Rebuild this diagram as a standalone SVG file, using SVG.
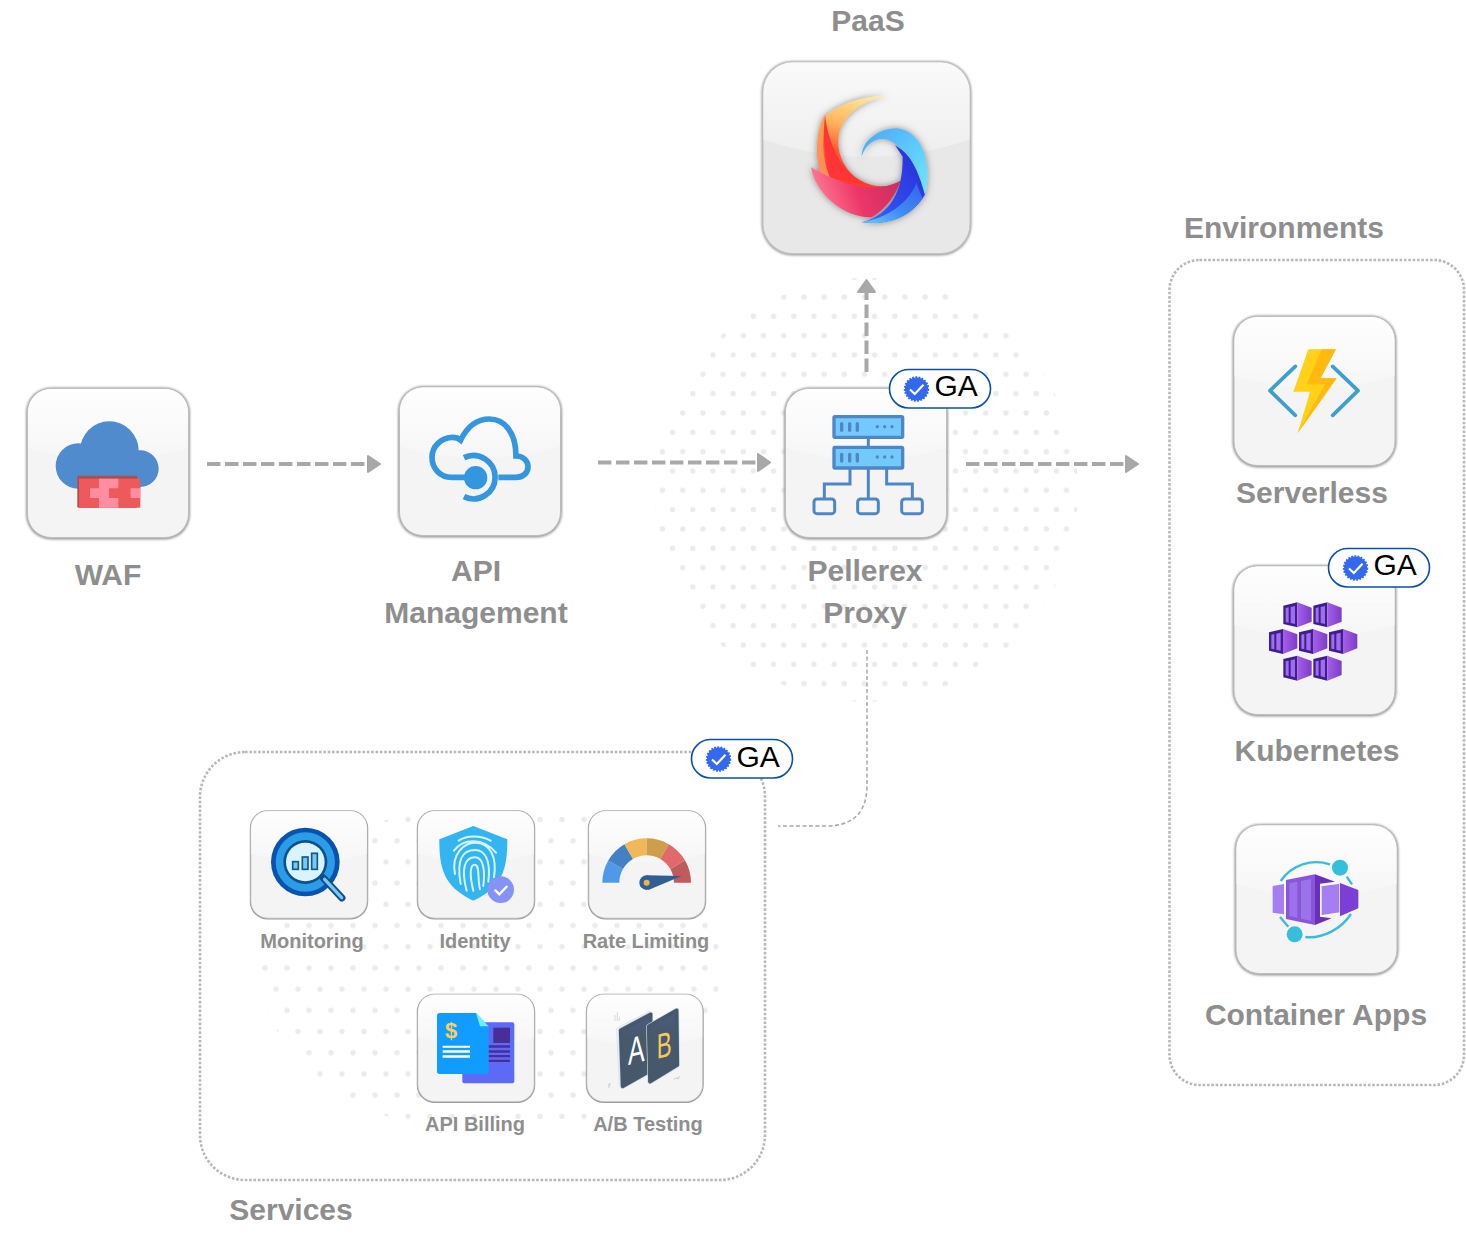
<svg xmlns="http://www.w3.org/2000/svg" xmlns:xlink="http://www.w3.org/1999/xlink" width="1466" height="1241" viewBox="0 0 1466 1241">
<style>
text{font-family:"Liberation Sans",Arial,sans-serif}
.lbl{font-size:30px;font-weight:700;fill:#8e8e8e;text-anchor:middle}
.sm{font-size:20px;font-weight:700;fill:#8e8e8e;text-anchor:middle}
.ga{font-size:30px;fill:#000}
.frame{fill:none;stroke:#b8b8b8;stroke-width:2.6;stroke-dasharray:2.6 1.75}
.flow{fill:none;stroke:#a8a8a8;stroke-width:4;stroke-dasharray:13.4 4.6}
.thin{fill:none;stroke:#a8a8a8;stroke-width:1.5;stroke-dasharray:4 2.5}
.head{fill:#a8a8a8;stroke:#a8a8a8;stroke-width:2;stroke-linejoin:round}
.pill{fill:#fff;stroke:#0b50a8;stroke-width:1.6}
</style>
<defs>
<filter id="soft" x="-10%" y="-10%" width="120%" height="120%"><feGaussianBlur stdDeviation="1"/></filter>
<filter id="logoShadow" x="-25%" y="-25%" width="150%" height="150%"><feDropShadow dx="0" dy="0" stdDeviation="11" flood-color="#555" flood-opacity=".65"/></filter>
<linearGradient id="gl" x1="0" y1="0" x2="0" y2="1"><stop offset="0" stop-color="#fefefe"/><stop offset="1" stop-color="#f6f6f6"/></linearGradient>
<linearGradient id="gd" x1="0" y1="0" x2="0" y2="1"><stop offset="0" stop-color="#fafafa"/><stop offset="1" stop-color="#eeeeee"/></linearGradient>
<linearGradient id="gOr" x1="0.7" y1="0" x2="0.5" y2="1"><stop offset="0" stop-color="#ffec9e"/><stop offset="0.35" stop-color="#ffb45a"/><stop offset="0.62" stop-color="#ff5a30"/><stop offset="1" stop-color="#ff2f34"/></linearGradient>
<linearGradient id="gSl" x1="0" y1="0" x2="0" y2="1"><stop offset="0" stop-color="#ffa04a"/><stop offset="1" stop-color="#ff8a5a"/></linearGradient>
<linearGradient id="gPk" x1="0" y1="0.5" x2="1" y2="0.3"><stop offset="0" stop-color="#ff8096"/><stop offset="0.5" stop-color="#ee3568"/><stop offset="1" stop-color="#c72f60"/></linearGradient>
<linearGradient id="gBl" x1="0" y1="1" x2="1" y2="0.2"><stop offset="0" stop-color="#3b70f8"/><stop offset="0.4" stop-color="#2f4cf0"/><stop offset="1" stop-color="#2b2fd8"/></linearGradient>
<linearGradient id="gRim" x1="0" y1="1" x2="1" y2="0"><stop offset="0" stop-color="#66ccff"/><stop offset="0.45" stop-color="#3f8cf6"/><stop offset="1" stop-color="#3560ec"/></linearGradient>
<linearGradient id="gSky" x1="0" y1="0" x2="1" y2="1"><stop offset="0" stop-color="#4aa6f8"/><stop offset="1" stop-color="#70e8ff"/></linearGradient>
<linearGradient id="gCube" x1="0" y1="0" x2="1" y2="0"><stop offset="0" stop-color="#a65fea"/><stop offset="1" stop-color="#7b3dc9"/></linearGradient>
<linearGradient id="gCard" x1="0" y1="0" x2="0" y2="1"><stop offset="0" stop-color="#4f5a85"/><stop offset="0.35" stop-color="#47596a"/><stop offset="1" stop-color="#46596b"/></linearGradient>
<pattern id="dotsA" patternUnits="userSpaceOnUse" x="778.7" y="292" width="20.2" height="38.67"><circle cx="5" cy="5" r="2.7" fill="#ebebeb"/><circle cx="15.1" cy="24.33" r="2.7" fill="#ebebeb"/></pattern>
<pattern id="dotsB" patternUnits="userSpaceOnUse" x="260" y="963" width="22" height="42.4"><circle cx="5" cy="5" r="2.7" fill="#ebebeb"/><circle cx="16" cy="26.2" r="2.7" fill="#ebebeb"/></pattern>
<clipPath id="clipA"><circle cx="866" cy="490" r="212"/></clipPath>
<clipPath id="clipB"><ellipse cx="490" cy="968" rx="230" ry="166"/></clipPath>
<symbol id="tile" viewBox="0 0 162 150" preserveAspectRatio="none" overflow="visible">
<rect x="-1" y="-0.5" width="164" height="152" rx="25" fill="#8a8a8a" opacity=".85" filter="url(#soft)"/>
<rect x="0.5" y="0.5" width="161" height="149" rx="23.500" fill="#f4f4f4" stroke="#bdbdbd" stroke-width="1"/>
<path d="M1 60V24A23 23 0 0 1 24 1H138A23 23 0 0 1 161 24V60Q81 84 1 60Z" fill="url(#gl)"/>
</symbol>
<symbol id="tileDark" viewBox="0 0 208 192" preserveAspectRatio="none" overflow="visible">
<rect x="-1" y="-0.5" width="210" height="194" rx="31" fill="#8a8a8a" opacity=".8" filter="url(#soft)"/>
<rect x="0.5" y="0.5" width="207" height="191" rx="29.500" fill="#e8e8e8" stroke="#c4c4c4" stroke-width="1"/>
<path d="M1 78V30A29 29 0 0 1 30 1H178A29 29 0 0 1 207 30V78Q104 112 1 78Z" fill="url(#gd)"/>
</symbol>
<g id="pillBase">
<rect class="pill" x="0.500" y="0.500" width="101" height="38.500" rx="19.250"/>
<circle cx="27.500" cy="20" r="11.500" fill="#3368ef" stroke="#3368ef" stroke-width="2.400" stroke-dasharray="1.800 1.300"/>
<path d="M21 20.500L25.800 25L34.500 15.800" fill="none" stroke="#fff" stroke-width="2.200"/>
</g>
<g id="cube">
<path d="M190 197L232 187V262L190 252Z" fill="#3e1f8c"/>
<path d="M232 187L275 203V245L232 262Z" fill="url(#gCube)"/>
<path d="M197 204L206 202V248L197 246ZM212 201L225 198V252L212 249Z" fill="#a06cf0"/>
</g>
</defs>

<g id="backgrounds">
<rect x="650" y="275" width="432" height="432" fill="url(#dotsA)" clip-path="url(#clipA)"/>
<rect x="255" y="816" width="470" height="306" fill="url(#dotsB)" clip-path="url(#clipB)"/>
</g>

<g id="connectors">
<path class="flow" d="M207 464H368"/>
<path class="head" d="M368 456L380 464L368 472Z"/>
<path class="flow" d="M598 462.500H758"/>
<path class="head" d="M758 454L770 462.500L758 471Z"/>
<path class="flow" d="M966 464H1126"/>
<path class="head" d="M1126 456L1138 464L1126 472Z"/>
<path class="flow" d="M866.500 372V292"/>
<path class="head" d="M858 292L866.500 280L875 292Z"/>
<path class="thin" d="M867 650V785Q867 826 826 826H778"/>
</g>

<g id="environments">
<rect class="frame" x="1169.500" y="260" width="294.500" height="825" rx="30"/>
<text class="lbl" x="1284" y="238">Environments</text>
</g>

<g id="services">
<rect class="frame" x="200" y="752" width="565" height="428" rx="45"/>
<text class="lbl" x="291" y="1220">Services</text>
<use href="#pillBase" x="691" y="739"/>
<text class="ga" x="736.500" y="767">GA</text>
</g>

<g id="paas">
<text class="lbl" x="868" y="31">PaaS</text>
<use href="#tileDark" x="762.500" y="61.500" width="208" height="192.500"/>
<g transform="translate(750 50) scale(.3333)" filter="url(#logoShadow)">
<path d="M412 138C340 150 285 190 268 245C255 300 280 360 330 390C370 415 420 415 452 392L360 440L240 380C205 320 200 250 225 200C260 165 340 136 412 138Z" fill="url(#gOr)"/>
<path d="M222 198C198 250 195 310 210 368L238 380C215 320 215 250 225 195Z" fill="url(#gSl)"/>
<path d="M225 195C235 280 270 360 345 405L240 382C222 320 218 255 225 195Z" fill="#ff3434"/>
<path d="M183 352C250 392 360 440 452 392C440 430 410 475 365 502C290 505 200 440 183 352Z" fill="url(#gPk)"/>
<path d="M335 517C400 500 460 450 458 320L435 285C490 320 515 370 526 432C490 495 420 528 335 517Z" fill="url(#gBl)"/>
<path d="M335 517C400 505 470 470 500 398C506 420 512 430 518 445C480 500 420 528 335 517Z" fill="url(#gRim)"/>
<path d="M335 320C335 270 390 235 440 235C510 240 550 330 525 435C510 380 490 320 440 285C400 250 350 270 335 320Z" fill="url(#gSky)"/>
</g>
</g>

<g id="waf">
<use href="#tile" x="27" y="388" width="162" height="150"/>
<g transform="translate(15 380) scale(.3333)">
<g fill="#4f8bcd"><circle cx="283" cy="212" r="88"/><circle cx="190" cy="258" r="68"/><circle cx="376" cy="266" r="55"/><rect x="190" y="255" width="186" height="70"/></g>
<rect x="187" y="287" width="180" height="96" rx="4" fill="#a94f52"/>
<rect x="192" y="296" width="184" height="87" fill="#ee5a5c"/>
<path d="M252 296H310V325H282V354H310V383H252V354H225V325H252ZM347 325H376V354H347Z" fill="#ff8fa0"/>
</g>
<text class="lbl" x="108" y="585">WAF</text>
</g>

<g id="api-management">
<use href="#tile" x="399" y="386.500" width="162" height="149.500"/>
<g transform="translate(390 380) scale(.3333)">
<path d="M228 292H185C150 292 126 265 126 232C126 198 155 172 188 172C198 172 205 174 212 180C232 140 262 117 298 117C345 117 378 160 378 228C400 228 414 243 414 260C414 280 398 292 378 292H325" fill="none" stroke="#3596e0" stroke-width="17"/>
<circle cx="257" cy="293" r="35" fill="#3596e0"/>
<path d="M222 233A65 65 0 1 1 222 350" fill="none" stroke="#3596e0" stroke-width="17"/>
</g>
<text class="lbl" x="476" y="581">API</text>
<text class="lbl" x="476" y="623">Management</text>
</g>

<g id="pellerex-proxy">
<use href="#tile" x="785" y="388" width="162" height="150"/>
<g transform="translate(770 360) scale(.3333)">
<g fill="#74c9fc" stroke="#4f86c8" stroke-width="10">
<rect x="192" y="170" width="206" height="62" rx="3"/>
<rect x="192" y="262" width="206" height="62" rx="3"/>
</g>
<g fill="none" stroke="#4f86c8" stroke-width="9">
<path d="M295 232V262M295 324V417M240 324V372H163V417M350 324V372H427V417"/>
<rect x="132" y="417" width="62" height="44" rx="9"/><rect x="263" y="417" width="62" height="44" rx="9"/><rect x="395" y="417" width="62" height="44" rx="9"/>
</g>
<g fill="#4f86c8">
<rect x="210" y="186" width="10" height="30" rx="5"/><rect x="234" y="186" width="10" height="30" rx="5"/><rect x="257" y="186" width="10" height="30" rx="5"/>
<rect x="210" y="278" width="10" height="30" rx="5"/><rect x="234" y="278" width="10" height="30" rx="5"/><rect x="257" y="278" width="10" height="30" rx="5"/>
<circle cx="322" cy="200" r="5"/><circle cx="344" cy="200" r="5"/><circle cx="366" cy="200" r="5"/>
<circle cx="322" cy="291" r="5"/><circle cx="344" cy="291" r="5"/><circle cx="366" cy="291" r="5"/>
</g>
</g>
<text class="lbl" x="865" y="581">Pellerex</text>
<text class="lbl" x="865" y="623">Proxy</text>
<use href="#pillBase" x="889" y="369"/>
<text class="ga" x="934.500" y="396">GA</text>
</g>

<g id="serverless">
<use href="#tile" x="1233.500" y="316" width="162" height="150"/>
<g transform="translate(1220 305) scale(.3333)">
<path d="M226 184L150 257L226 331M338 184L414 257L338 331" fill="none" stroke="#3c9fcf" stroke-width="11" stroke-linecap="round" stroke-linejoin="round"/>
<path d="M265 133H348L300 220H350L233 385L270 260H220Z" fill="#ffd118"/>
<path d="M305 133H348L302 220H350L233 385L315 238H260Z" fill="#ffb90f"/>
</g>
<text class="lbl" x="1312" y="503">Serverless</text>
</g>

<g id="kubernetes">
<use href="#tile" x="1233.500" y="565.500" width="162" height="149.500"/>
<g transform="translate(1220 540) scale(.3333)">
<use href="#cube"/><use href="#cube" x="90"/>
<use href="#cube" x="-43" y="80"/><use href="#cube" x="47" y="80"/><use href="#cube" x="137" y="80"/>
<use href="#cube" y="160"/><use href="#cube" x="90" y="160"/>
</g>
<text class="lbl" x="1317" y="761">Kubernetes</text>
<use href="#pillBase" x="1328" y="548"/>
<text class="ga" x="1373.500" y="575">GA</text>
</g>

<g id="container-apps">
<use href="#tile" x="1235.500" y="824.500" width="162" height="149.500"/>
<g transform="translate(1220 815) scale(.3333)">
<path d="M182 198C215 150 275 130 330 148M380 185L396 208M256 366C310 372 365 340 393 297M180 306L205 335" fill="none" stroke="#38bcdc" stroke-width="7"/>
<circle cx="360" cy="158" r="24" fill="#36bfdc"/><circle cx="224" cy="358" r="24" fill="#36bfdc"/>
<path d="M158 213L192 207V298L158 293Z" fill="#a57ef2"/>
<path d="M198 195L285 178V330L198 312Z" fill="#8a55db"/>
<path d="M285 178L345 200L300 206V305L335 310L285 330Z" fill="#6b2fc0"/>
<path d="M208 205L232 200V308L208 303ZM243 198L273 192V317L243 311Z" fill="#9c72ea"/>
<path d="M303 212L360 204V294L303 303Z" fill="#a57ef2" stroke="#fff" stroke-width="4"/>
<path d="M360 204L415 225V280L360 304Z" fill="#7b3fd6"/>
</g>
<text class="lbl" x="1316" y="1025">Container Apps</text>
</g>

<g id="monitoring">
<use href="#tile" x="250.500" y="810.500" width="117" height="108"/>
<g transform="translate(240 800) scale(.3333)">
<circle cx="196" cy="186" r="103" fill="#0a52b0"/><circle cx="196" cy="186" r="89" fill="#2b9ce6"/><circle cx="196" cy="186" r="66" fill="#0d4f90"/><circle cx="196" cy="186" r="58" fill="#d9f4ff"/>
<g fill="#7cc8ec" stroke="#0e5a95" stroke-width="5"><rect x="158" y="185" width="17" height="23"/><rect x="187" y="171" width="17" height="37"/><rect x="215" y="160" width="17" height="48"/></g>
<path d="M250 234L306 294" stroke="#0e4f8c" stroke-width="21" stroke-linecap="round"/>
<path d="M254 238L305 293" stroke="#7cc5ee" stroke-width="10" stroke-linecap="round"/>
</g>
<text class="sm" x="312" y="948">Monitoring</text>
</g>

<g id="identity">
<use href="#tile" x="417.500" y="810.500" width="117" height="108"/>
<g transform="translate(240 800) scale(.3333)">
<path d="M700 78L802 118C802 200 792 260 700 302C608 260 598 200 598 118Z" fill="#33b5f2"/>
<g fill="none" stroke="#d8f3ff" stroke-width="6" stroke-linecap="round">
<path d="M656 122C680 105 722 105 752 122M642 152C670 114 730 112 768 158M645 222C632 160 675 128 705 128C750 128 772 170 762 232M662 252C648 175 670 150 705 150C740 150 752 190 745 245M680 272C662 205 675 172 705 172C730 172 736 210 730 258M700 272C688 225 690 192 705 194C720 196 712 235 720 268"/>
</g>
<circle cx="782" cy="269" r="40" fill="#8592f8"/>
<path d="M764 269L778 283L802 258" fill="none" stroke="#fff" stroke-width="7"/>
</g>
<text class="sm" x="475" y="948">Identity</text>
</g>

<g id="rate-limiting">
<use href="#tile" x="588.500" y="810.500" width="117" height="108"/>
<g transform="translate(530 730) scale(.3333)">
<g fill="none" stroke-width="51">
<path d="M242.500 458A107.500 107.500 0 0 1 256.900 404.250" stroke="#4f9ae8"/>
<path d="M256.900 404.250A107.500 107.500 0 0 1 296.250 364.900" stroke="#4380c4"/>
<path d="M296.250 364.900A107.500 107.500 0 0 1 350 350.500" stroke="#f0b858"/>
<path d="M350 350.500A107.500 107.500 0 0 1 403.750 364.900" stroke="#cf9e4c"/>
<path d="M403.750 364.900A107.500 107.500 0 0 1 443.100 404.250" stroke="#e2696a"/>
<path d="M443.100 404.250A107.500 107.500 0 0 1 457.500 458" stroke="#c05a5c"/>
</g>
<circle cx="350" cy="458" r="22" fill="#2f5f95"/>
<path d="M350 436L455 438L355 480Z" fill="#2f5f95"/>
<circle cx="350" cy="458" r="9" fill="#f2b441"/>
</g>
<text class="sm" x="646" y="948">Rate Limiting</text>
</g>

<g id="api-billing">
<use href="#tile" x="417.500" y="994" width="117" height="108"/>
<g transform="translate(400 985) scale(.3333)">
<rect x="187" y="112" width="156" height="183" rx="6" fill="#5d6af8"/>
<rect x="280" y="128" width="50" height="46" fill="#472f96"/>
<path d="M265 181H330V188H265ZM265 196H330V203H265ZM265 210H330V217H265ZM265 224H330V231H265Z" fill="#472f96"/>
<path d="M119 84H228L266 124V259A8 8 0 0 1 258 267H119A8 8 0 0 1 111 259V92A8 8 0 0 1 119 84Z" fill="#119dff"/>
<path d="M228 84L266 124H240Z" fill="#6ff0ff"/>
<text x="135" y="158" font-size="66" font-weight="700" fill="#f8d060">$</text>
<path d="M128 182H210V188H128ZM128 196H210V203H128ZM128 211H210V218H128Z" fill="#fff"/>
</g>
<text class="sm" x="475" y="1131">API Billing</text>
</g>

<g id="ab-testing">
<use href="#tile" x="586.500" y="994" width="116.500" height="108"/>
<g transform="translate(400 985) scale(.3333)">
<path d="M645 108V90M652 108V82M658 108V95" stroke="#c8c8c8" stroke-width="2"/>
<path d="M627 308V297H632M822 284L828 278L834 282L838 274" fill="none" stroke="#aaa" stroke-width="2"/>
<path d="M650 130L750 78L750 250L658 302Z" fill="none" stroke="#d6e4f5" stroke-width="3" stroke-linejoin="round"/>
<path d="M662 136L752 88L750 258L668 304Z" fill="#c6d6ea" stroke="#c6d6ea" stroke-width="15" stroke-linejoin="round"/>
<path d="M662 136L752 88L750 258L668 304Z" fill="url(#gCard)" stroke="#46596b" stroke-width="11" stroke-linejoin="round"/>
<path d="M746 124L830 76L832 240L750 290Z" fill="#c6d6ea" stroke="#c6d6ea" stroke-width="15" stroke-linejoin="round"/>
<path d="M746 124L830 76L832 240L750 290Z" fill="url(#gCard)" stroke="#46596b" stroke-width="11" stroke-linejoin="round"/>
<text font-size="104" fill="#fff" transform="translate(684 240) skewY(-14) scale(.72 1.1)">A</text>
<text font-size="84" fill="#f5c860" transform="translate(770 222) skewY(-14) scale(.8 1.25)">B</text>
</g>
<text class="sm" x="648" y="1131">A/B Testing</text>
</g>
</svg>
